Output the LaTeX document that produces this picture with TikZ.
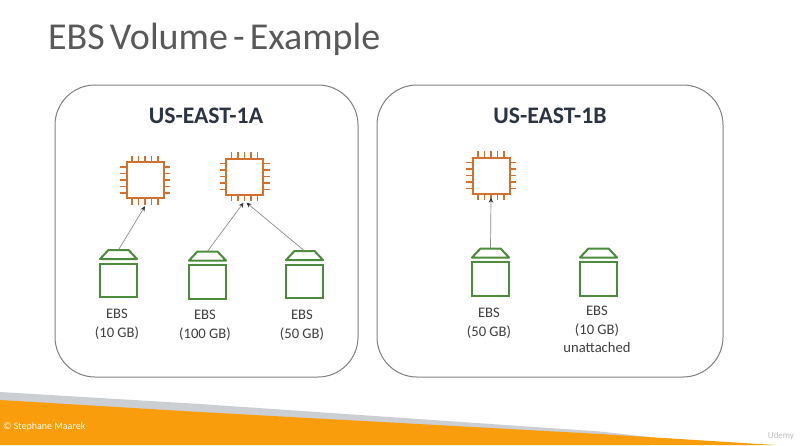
\documentclass[tikz,border=0pt]{standalone}
\usepackage{fontspec}
\setmainfont{Carlito}
\newfontfamily\titlefont[WordSpace=0.6]{Carlito}
\usetikzlibrary{arrows.meta}
\definecolor{cpuorange}{HTML}{D2702E}
\definecolor{ebsgreen}{HTML}{4B8B3B}
\definecolor{footorange}{HTML}{F99D0C}
\definecolor{footgray}{HTML}{CBCED2}
\definecolor{panelgray}{HTML}{808080}
\definecolor{inktext}{HTML}{3F3F3F}
\definecolor{headtext}{HTML}{2B3440}
\tikzset{
  panel/.style={draw=panelgray,line width=1pt,rounded corners=40pt,fill=white},
  heading/.style={font=\fontsize{23.7}{25}\selectfont\bfseries,text=headtext,inner sep=0pt},
  vollabel/.style={font=\fontsize{14.6}{18.5}\selectfont,text=inktext,align=center,inner sep=0pt},
  cpubox/.style={minimum width=52pt,minimum height=52pt,inner sep=0pt},
  ebsbox/.style={minimum width=37pt,minimum height=47pt,inner sep=0pt},
  link/.style={draw=black!45,line width=0.7pt,-{Stealth[length=5pt,width=4.5pt,color=headtext]}},
  cpu/.pic={
    \foreach \p in {-13,-6.5,0,6.5,13}{
      \draw[cpuorange,line width=1.9pt] (\p,-18) -- (\p,-24.5) (\p,18) -- (\p,24.5)
        (-18.5,\p) -- (-25,\p) (18.5,\p) -- (25,\p);
    }
    \draw[cpuorange,line width=2pt,fill=white] (-18.5,-18) rectangle (18.5,18);
  },
  ebs/.pic={
    \draw[ebsgreen,line width=2pt] (-18.5,-10) rectangle (18.5,23.5);
    \draw[ebsgreen,line width=2pt,line join=round] (-18.5,-14.5) -- (-10,-23.5) -- (10,-23.5) -- (18.5,-14.5) -- cycle;
  }
}
\begin{document}
\begin{tikzpicture}[x=1pt,y=-1pt]
\useasboundingbox (0,0) rectangle (800,445);
\fill[white] (0,0) rectangle (800,445);
% footer
\fill[footgray] (0,392) -- (200,404) -- (600,431.5) -- (650,437.1) -- (650,445) -- (0,445) -- cycle;
\fill[footorange] (0,400) -- (200,412) -- (600,434) -- (775,445) -- (0,445) -- cycle;
\node[font=\fontsize{10}{11}\selectfont,text=white!92!yellow,anchor=west,inner sep=0pt] (copy) at (3,427) {© Stephane Maarek};
\node[font=\fontsize{9}{10}\selectfont,text=black!25,anchor=center,inner sep=0pt] (udemy) at (781,436) {Udemy};
% title
\node[font=\titlefont\fontsize{38}{42}\selectfont,text=black!65,anchor=west,inner sep=0pt] (title) at (48,39) {EBS Volume - Example};
% panels
\node[panel,minimum width=303pt,minimum height=292pt,inner sep=0pt] (azA) at (206.5,231) {};
\node[panel,minimum width=346pt,minimum height=292pt,inner sep=0pt] (azB) at (550,231) {};
\node[heading] (hA) at (206,116) {US-EAST-1A};
\node[heading] (hB) at (550,116) {US-EAST-1B};
% cpus
\node[cpubox] (c1) at (145,180) {}; \pic at (145,180) {cpu};
\node[cpubox] (c2) at (244.5,176.5) {}; \pic at (244.5,176.5) {cpu};
\node[cpubox] (c3) at (491,175.5) {}; \pic at (491,175.5) {cpu};
% volumes
\node[ebsbox] (e1) at (118.5,273.5) {}; \pic at (118.5,273.5) {ebs};
\node[ebsbox] (e2) at (207.5,275) {}; \pic at (207.5,275) {ebs};
\node[ebsbox] (e3) at (304.5,274.5) {}; \pic at (304.5,274.5) {ebs};
\node[ebsbox] (e4) at (490.5,272) {}; \pic at (490.5,272) {ebs};
\node[ebsbox] (e5) at (598.5,272) {}; \pic at (598.5,272) {ebs};
% labels
\node[vollabel] (l1) at (117,324.5) {EBS\\(10 GB)};
\node[vollabel] (l2) at (205,325.5) {EBS\\(100 GB)};
\node[vollabel] (l3) at (302,325.5) {EBS\\(50 GB)};
\node[vollabel] (l4) at (489,323.5) {EBS\\(50 GB)};
\node[vollabel,anchor=north] (l5) at (597,306) {EBS\\(10 GB)\\unattached};
% connectors
\draw[link] (e1.north) -- (c1.south);
\draw[link] (e2.north) -- ([xshift=-1pt]c2.south);
\draw[link] (e3.north) -- ([xshift=2pt]c2.south);
\draw[link] (e4.north) -- ([yshift=4pt]c3.south);
\end{tikzpicture}
\end{document}
